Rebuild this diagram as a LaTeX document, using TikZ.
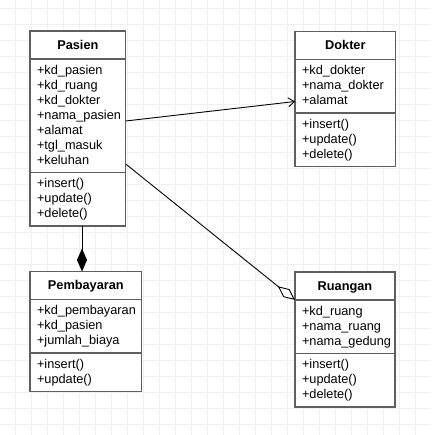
\documentclass[tikz,border=0pt]{standalone}
\usepackage{fontspec}
\setmainfont{Liberation Sans}
\usetikzlibrary{shapes.multipart,arrows.meta}

\definecolor{garis}{HTML}{5F5F5F}
\definecolor{kisi}{HTML}{F0F0F0}

\newcommand{\sr}{\rule[-4pt]{0pt}{15pt}}
\newcommand{\judul}[2]{\parbox{#1}{\centering\bfseries\rule[-5.5pt]{0pt}{19.5pt}#2}}
\newcommand{\bagian}[2]{\parbox{#1}{\raggedright\leftskip=3pt\relax#2}}

\tikzset{
  kelas/.style={rectangle split, rectangle split parts=3, draw=garis, line width=1.5pt,
    fill=white, anchor=north west, outer sep=0pt, inner xsep=4pt, inner ysep=3.5pt,
    font=\fontsize{12.75}{15}\selectfont},
  relasi/.style={draw=black, line width=0.9pt},
  asosiasi/.style={relasi, -{Straight Barb[length=6pt,width=9pt]}},
  agregasi/.style={relasi, -{Diamond[open,fill=white,length=22pt,width=10pt]}},
  komposisi/.style={relasi, -{Diamond[length=23pt,width=10pt]}}
}

\begin{document}
\begin{tikzpicture}[x=1pt,y=-1pt]
	\useasboundingbox[fill=white] (0,0) rectangle (431,435);
	% kisi latar
	\foreach \gx in {0,16,...,430}
		\draw[kisi, line width=0.8pt] (\gx-0.7,0) -- (\gx-0.7,435);
	\foreach \gy in {8,24,...,435}
		\draw[kisi, line width=0.8pt] (0,\gy) -- (431,\gy);

	% Kelas
	\node (pasien) at (30,31) [kelas] {\judul{87.7pt}{Pasien}
		\nodepart{two}\bagian{87.7pt}{\sr+kd\_pasien\\\sr+kd\_ruang\\\sr+kd\_dokter\\\sr+nama\_pasien\\\sr+alamat\\\sr+tgl\_masuk\\\sr+keluhan}
		\nodepart{three}\bagian{87.7pt}{\sr+insert()\\\sr+update()\\\sr+delete()}};
	\node (dokter) at (295,31.5) [kelas] {\judul{92.7pt}{Dokter}
		\nodepart{two}\bagian{92.7pt}{\sr+kd\_dokter\\\sr+nama\_dokter\\\sr+alamat}
		\nodepart{three}\bagian{92.7pt}{\sr+insert()\\\sr+update()\\\sr+delete()}};
	\node (pembayaran) at (30,271.5) [kelas] {\judul{103.7pt}{Pembayaran}
		\nodepart{two}\bagian{103.7pt}{\sr+kd\_pembayaran\\\sr+kd\_pasien\\\sr+jumlah\_biaya}
		\nodepart{three}\bagian{103.7pt}{\sr+insert()\\\sr+update()}};
	\node (ruangan) at (295,272) [kelas] {\judul{92pt}{Ruangan}
		\nodepart{two}\bagian{92pt}{\sr+kd\_ruang\\\sr+nama\_ruang\\\sr+nama\_gedung}
		\nodepart{three}\bagian{92pt}{\sr+insert()\\\sr+update()\\\sr+delete()}};

	% Relasi
	\draw[asosiasi] ([yshift=-90pt]pasien.north east) to ([yshift=-70pt]dokter.north west);
	\draw[agregasi] ([yshift=-133pt]pasien.north east) to (ruangan.text split west);
	\draw[komposisi] ([xshift=52pt]pasien.south west) to ([xshift=52pt]pembayaran.north west);
\end{tikzpicture}
\end{document}
